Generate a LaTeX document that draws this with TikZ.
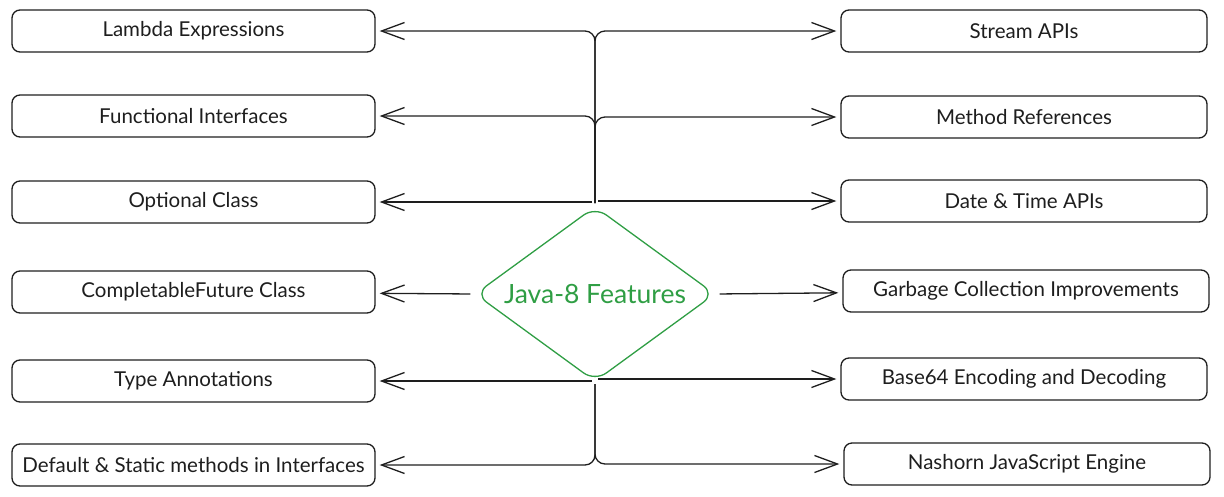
\documentclass[tikz,border=0pt]{standalone}
\usepackage{fontspec}
\setmainfont{Lato}
\usetikzlibrary{shapes.geometric,arrows.meta}
\definecolor{ink}{HTML}{1E1E1E}
\definecolor{leaf}{HTML}{2F9E44}

\begin{document}
\begin{tikzpicture}[x=1pt,y=-1pt,
  feat/.style={draw=ink, line width=1.3pt, rounded corners=8pt, minimum height=42pt,
    inner sep=0pt, text=ink, font=\fontsize{20.5}{23}\selectfont},
  lfeat/.style={feat, minimum width=363pt},
  rfeat/.style={feat, minimum width=366pt},
  arr/.style={draw=ink, line width=1.3pt, -{Straight Barb[length=23pt,width=17pt]},
    shorten >=4pt}]
\useasboundingbox (0,0) rectangle (1224,496);

% centre
\node[diamond, aspect=1.4, draw=leaf, line width=1.3pt, rounded corners=14pt, inner sep=0pt,
  minimum width=240pt, minimum height=175pt, text=leaf,
  font=\fontsize{26.5}{30}\selectfont] (java) at (595,294) {Java-8 Features};

% left column
\node[lfeat] (lam)  at (193.5,31)  {Lambda Expressions};
\node[lfeat] (func) at (193.5,116) {Functional Interfaces};
\node[lfeat] (opt)  at (193.5,202) {Optional Class};
\node[lfeat] (cfut) at (193.5,292) {CompletableFuture Class};
\node[lfeat] (tann) at (193.5,381) {Type Annotations};
\node[lfeat] (defm) at (193.5,465) {Default \& Static methods in Interfaces};

% right column
\node[rfeat] (strm)  at (1024,31)  {Stream APIs};
\node[rfeat] (mref)  at (1024,117) {Method References};
\node[rfeat] (dtapi) at (1024,201) {Date \& Time APIs};
\node[rfeat] (gc)    at (1026,291) {Garbage Collection Improvements};
\node[rfeat] (b64)   at (1024,379) {Base64 Encoding and Decoding};
\node[rfeat] (nash)  at (1027,464) {Nashorn JavaScript Engine};

% trunks
\coordinate (ttop) at (595,203);
\coordinate (tbot) at (595,384);

\foreach \n in {lam,func,strm,mref}
  \draw[arr, rounded corners=10pt] (ttop) |- (\n);
\foreach \n in {defm,nash}
  \draw[arr, rounded corners=10pt] (tbot) |- (\n);
\foreach \n in {opt,dtapi,tann,b64}
  \draw[arr, shorten <=3pt] (ttop |- \n) -- (\n);

\draw[arr, shorten <=4pt] (java.west) -- (cfut);
\draw[arr, shorten <=4pt] (java.east) -- (gc);
\end{tikzpicture}
\end{document}
